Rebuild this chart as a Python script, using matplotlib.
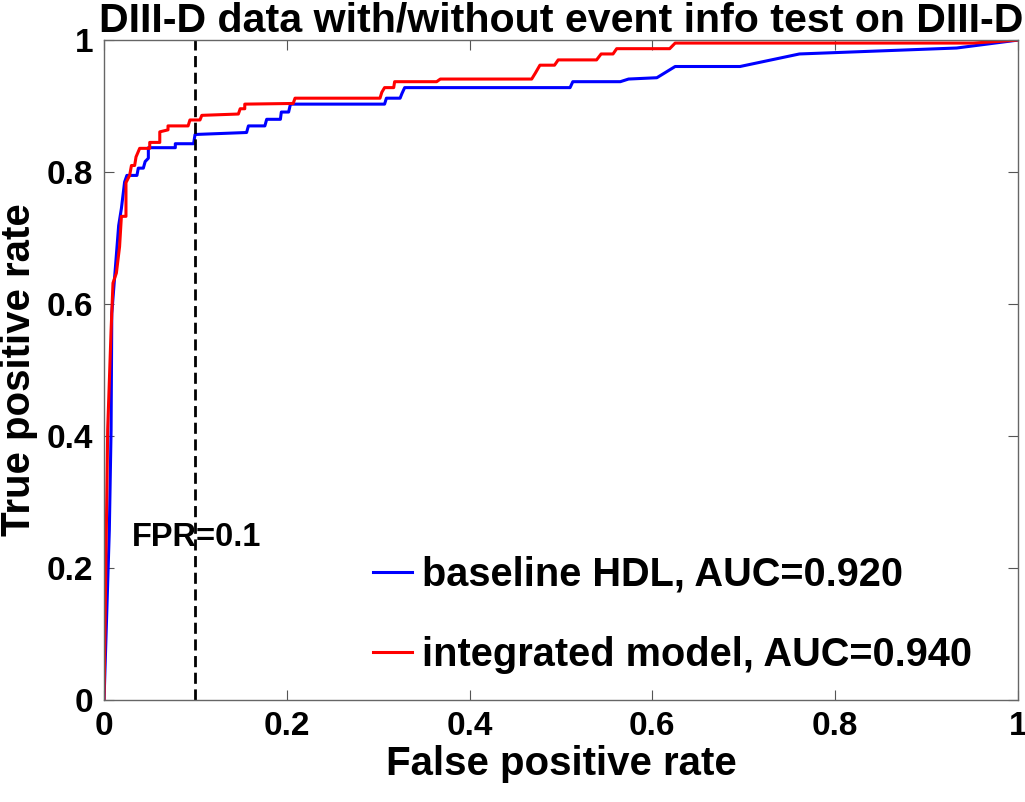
import numpy as np
import matplotlib
matplotlib.use("Agg")
import matplotlib.pyplot as plt

plt.rcParams['font.family'] = ['Liberation Sans', 'DejaVu Sans']
plt.rcParams['font.weight'] = 'bold'

# ROC curve points
fpr_base = [0, 0.0058, 0.0077, 0.0085, 0.016, 0.019, 0.0225, 0.025, 0.036, 0.0375, 0.043, 0.045,
            0.0485, 0.0485, 0.078, 0.078, 0.098, 0.0996, 0.156, 0.158, 0.176, 0.178, 0.193, 0.194,
            0.202, 0.204, 0.307, 0.309, 0.324, 0.326, 0.329, 0.510, 0.513, 0.565, 0.574, 0.605,
            0.625, 0.696, 0.761, 0.933, 1.0]
tpr_base = [0, 0.258, 0.409, 0.586, 0.719, 0.745, 0.785, 0.795, 0.795, 0.806, 0.806, 0.816,
            0.821, 0.837, 0.837, 0.843, 0.843, 0.857, 0.860, 0.870, 0.870, 0.880, 0.880, 0.891,
            0.891, 0.903, 0.903, 0.912, 0.912, 0.919, 0.928, 0.928, 0.937, 0.937, 0.941, 0.943,
            0.960, 0.960, 0.979, 0.988, 1.0]

fpr_int = [0, 0.004, 0.0077, 0.0098, 0.0135, 0.017, 0.019, 0.024, 0.024, 0.028, 0.030, 0.0335,
           0.035, 0.039, 0.050, 0.050, 0.061, 0.061, 0.070, 0.070, 0.092, 0.094, 0.105, 0.107,
           0.147, 0.149, 0.154, 0.154, 0.207, 0.209, 0.302, 0.304, 0.307, 0.317, 0.318, 0.364,
           0.368, 0.468, 0.472, 0.477, 0.493, 0.497, 0.539, 0.544, 0.557, 0.561, 0.619, 0.625,
           0.951, 1.0]
tpr_int = [0, 0.41, 0.56, 0.632, 0.647, 0.687, 0.733, 0.733, 0.784, 0.795, 0.810, 0.810,
           0.823, 0.836, 0.836, 0.845, 0.845, 0.861, 0.864, 0.870, 0.870, 0.879, 0.879, 0.886,
           0.888, 0.896, 0.896, 0.903, 0.904, 0.912, 0.912, 0.921, 0.928, 0.928, 0.937, 0.937,
           0.941, 0.941, 0.950, 0.962, 0.962, 0.970, 0.970, 0.979, 0.979, 0.987, 0.987, 0.9955,
           0.9955, 1.0]

labels = ['baseline HDL, AUC=0.920', 'integrated model, AUC=0.940']
fpr_cut = 0.1
ticks = [0, 0.2, 0.4, 0.6, 0.8, 1]
tick_labels = ['0', '0.2', '0.4', '0.6', '0.8', '1']

fig = plt.figure(figsize=(10.25, 8.02), dpi=100)
ax = fig.add_axes([0.1015, 0.127, 0.8915, 0.823])

ax.plot(fpr_base, tpr_base, color='blue', lw=2.2, label=labels[0])
ax.plot(fpr_int, tpr_int, color='red', lw=2.2, label=labels[1])
ax.plot([fpr_cut, fpr_cut], [0, 1], color='black', ls=(0, (4, 2)), lw=2.0)
ax.text(0.031, 0.247, 'FPR=0.1', fontsize=23.5, fontweight='bold', va='center', ha='left')

ax.set_xlim(0, 1)
ax.set_ylim(0, 1)
ax.set_xticks(ticks)
ax.set_xticklabels(tick_labels)
ax.set_yticks(ticks)
ax.set_yticklabels(tick_labels)
ax.tick_params(direction='in', length=7, width=0.8, color='#555555', labelsize=24,
               top=True, right=True, pad=8)
for s in ax.spines.values():
    s.set_color('#666666')
    s.set_linewidth(1.0)

ax.set_xlabel('False positive rate', fontsize=29, fontweight='bold', labelpad=2)
ax.set_ylabel('True positive rate', fontsize=29, fontweight='bold', labelpad=6)
ax.set_title('DIII-D data with/without event info test on DIII-D', fontsize=29.6,
             fontweight='bold', pad=6)

ax.legend(loc='lower left', bbox_to_anchor=(0.273, 0.009), frameon=False, fontsize=28.6,
          handlelength=0.98, handletextpad=0.25, labelspacing=1.08, borderpad=0)

fig.savefig('out.png', dpi=100)
